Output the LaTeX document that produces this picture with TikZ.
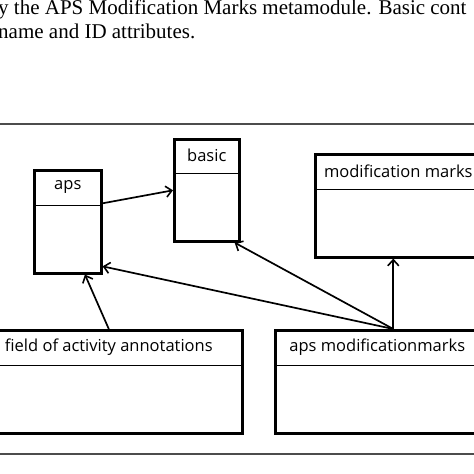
\documentclass[tikz,border=0pt]{standalone}
\usepackage{fontspec}
\setmainfont{Liberation Serif}
\setsansfont{Open Sans}
\usetikzlibrary{positioning,shadows,arrows.meta}

\begin{document}
\begin{tikzpicture}[x=1pt, y=-1pt,
    pkg/.style={draw, line width=2.6pt, fill=white, anchor=north west, inner sep=0pt,
        drop shadow={shadow xshift=1.6pt, shadow yshift=-1.6pt, fill=black!30}},
    hdr/.style={anchor=north, inner sep=0pt, font=\sffamily\fontsize{16.5}{16.5}\selectfont},
    split/.style={line width=1.2pt},
    dep/.style={line width=1.7pt, -{Straight Barb[length=6pt, width=11pt, line width=1.6pt]}},
    rule/.style={line width=1.5pt, draw=black!70},
    captext/.style={anchor=base west, inner sep=0pt, font=\rmfamily\fontsize{21}{25}\selectfont}]
                \useasboundingbox (0,0) rectangle (474,474);
                \clip (0,0) rectangle (474,474);
                \node[captext] (capA) at (-2,14) {y the APS Modification Marks metamodule. Basic cont};
                \node[captext] (capB) at (-2,38) {name and ID attributes.};
                \draw[rule] (0,124) -- (474,124);
                \draw[rule] (0,454) -- (474,454);
                \node[pkg, minimum width=67pt, minimum height=103pt] (aps) at (33,169) {};
                \node[hdr, minimum width=67pt, minimum height=36pt] (aps hdr) at (aps.north) {aps};
                \draw[split] (aps.west |- aps hdr.south) -- (aps.east |- aps hdr.south);
                \node[pkg, minimum width=65pt, minimum height=102pt] (basic) at (173,138) {};
                \node[hdr, minimum width=65pt, minimum height=35pt] (basic hdr) at (basic.north) {basic};
                \draw[split] (basic.west |- basic hdr.south) -- (basic.east |- basic hdr.south);
                \node[pkg, minimum width=166pt, minimum height=103pt] (mm) at (314,153) {};
                \node[hdr, minimum width=166pt, minimum height=36pt] (mm hdr) at (mm.north) {modification marks};
                \draw[split] (mm.west |- mm hdr.south) -- (mm.east |- mm hdr.south);
                \node[pkg, minimum width=267pt, minimum height=103pt] (field) at (-26,329) {};
                \node[hdr, minimum width=267pt, minimum height=36pt] (field hdr) at (field.north) {field of activity annotations};
                \draw[split] (field.west |- field hdr.south) -- (field.east |- field hdr.south);
                \node[pkg, minimum width=204pt, minimum height=103pt] (apsmm) at (274,329) {};
                \node[hdr, minimum width=204pt, minimum height=36pt] (apsmm hdr) at (apsmm.north) {aps modificationmarks};
                \draw[split] (apsmm.west |- apsmm hdr.south) -- (apsmm.east |- apsmm hdr.south);
                % dependencies
                \coordinate (hub) at ([xshift=16pt]apsmm.north);
                \draw[dep] (aps.28) -- (basic.west);
                \draw[dep] (hub) -- (basic.-62);
                \draw[dep] (hub) -- (aps.-52);
                \draw[dep] (hub) -- (hub |- mm.south);
                \draw[dep] (field.north) -- (aps.-72);
            \end{tikzpicture}
\end{document}
